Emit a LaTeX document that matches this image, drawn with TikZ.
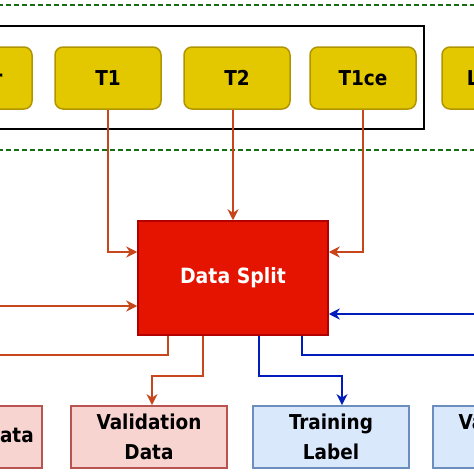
\documentclass[tikz,border=0pt]{standalone}
\usepackage{fontspec}
\setmainfont{DejaVu Sans Condensed}
\usetikzlibrary{arrows.meta}

\definecolor{modfill}{RGB}{227,200,0}
\definecolor{moddraw}{RGB}{176,149,0}
\definecolor{splitfill}{RGB}{229,20,0}
\definecolor{splitdraw}{RGB}{178,0,0}
\definecolor{datafill}{RGB}{248,212,208}
\definecolor{datadraw}{RGB}{184,84,80}
\definecolor{labelfill}{RGB}{218,232,252}
\definecolor{labeldraw}{RGB}{108,142,191}
\definecolor{flowred}{RGB}{199,70,28}
\definecolor{flowblue}{RGB}{0,29,188}
\definecolor{sepgreen}{RGB}{20,110,20}

\tikzstyle{boxfont} = [font=\bfseries\fontsize{20.5}{30}\selectfont]
\tikzstyle{modality} = [rectangle,rounded corners=8pt,draw=moddraw,fill=modfill,line width=1.5pt,minimum width=106pt,minimum height=62pt,inner sep=0pt,boxfont]
\tikzstyle{split} = [rectangle,draw=splitdraw,fill=splitfill,line width=1.5pt,minimum width=190pt,minimum height=114pt,inner sep=0pt,text=white,font=\bfseries\fontsize{21}{30}\selectfont]
\tikzstyle{datanode} = [rectangle,draw=datadraw,fill=datafill,line width=1.8pt,minimum width=156pt,minimum height=62pt,inner sep=0pt,align=center,boxfont]
\tikzstyle{labelnode} = [rectangle,draw=labeldraw,fill=labelfill,line width=1.8pt,minimum width=156pt,minimum height=62pt,inner sep=0pt,align=center,boxfont]
\tikzstyle{redflow} = [draw=flowred,line width=2.3pt,-{Stealth[length=11pt,width=11pt,inset=3.5pt]}]
\tikzstyle{blueflow} = [draw=flowblue,line width=2.3pt,-{Stealth[length=11pt,width=11pt,inset=3.5pt]}]
\tikzstyle{sepline} = [draw=sepgreen,line width=1.6pt,dash pattern=on 5pt off 3pt]

\begin{document}
\begin{tikzpicture}[x=1pt,y=-1pt]
	\useasboundingbox (0,0) rectangle (474,474);
	\clip (0,0) rectangle (474,474);

	\draw[sepline] (-10,5) -- (484,5);
	\draw[sepline] (-10,150) -- (484,150);
	\draw[line width=2pt] (-100,26) rectangle (424,129);

	\node[modality] (flair) at (-21,78) {Flair};
	\node[modality] (t1) at (108,78) {T1};
	\node[modality] (t2) at (237,78) {T2};
	\node[modality] (t1ce) at (363,78) {T1ce};
	\node[modality] (label) at (495,78) {Label};

	\node[split] (ds) at (233,278) {Data Split};

	\node[datanode] (trdata) at (-36,437) {Training Data};
	\node[datanode] (vadata) at (149,437) {Validation\\Data};
	\node[labelnode] (trlabel) at (331,437) {Training\\Label};
	\node[labelnode] (valabel) at (511,437) {Validation\\Label};

	\coordinate (leftin) at (-10,306);
	\coordinate (rightin) at (484,314);

	\draw[redflow] (t1.south) |- ([yshift=26pt]ds.west);
	\draw[redflow] (t2.south -| ds.north) -- (ds.north);
	\draw[redflow] (t1ce.south) |- ([yshift=26pt]ds.east);
	\draw[redflow] (leftin) -- (leftin -| ds.west);
	\draw[blueflow] (rightin) -- (rightin -| ds.east);

	\draw[redflow] ([xshift=-65pt]ds.south) -- ++(0,19) -| (trdata.north);
	\draw[redflow] ([xshift=-30pt]ds.south) -- ++(0,40) -| ([xshift=3pt]vadata.north);
	\draw[blueflow] ([xshift=26pt]ds.south) -- ++(0,40) -| ([xshift=11pt]trlabel.north);
	\draw[blueflow] ([xshift=69pt]ds.south) -- ++(0,19) -| (valabel.north);
\end{tikzpicture}
\end{document}
